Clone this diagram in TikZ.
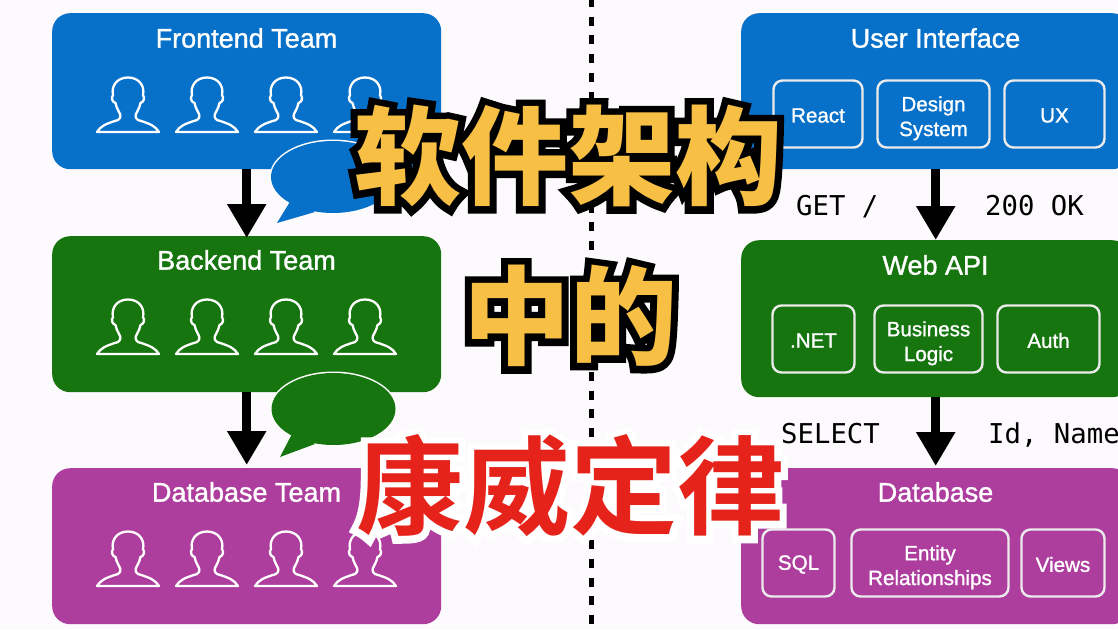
\documentclass[tikz,border=0pt]{standalone}
\usepackage{fontspec}
\setmainfont{Liberation Sans}[FakeBold=1.2]
\newfontfamily\monof{DejaVu Sans Mono}
\newfontfamily\cjkfill{Noto Sans CJK SC}[UprightFont=* Black]
\newfontfamily\cjkoutline{Noto Sans CJK SC}[UprightFont=* Black,FakeBold=13]
\newfontfamily\cjkred{Noto Sans CJK SC}[UprightFont=* Bold]
\newfontfamily\cjkredoutline{Noto Sans CJK SC}[UprightFont=* Bold,FakeBold=13]
\usetikzlibrary{arrows.meta}
\definecolor{pagebg}{HTML}{FDFAFD}
\definecolor{teamblue}{HTML}{0770C8}
\definecolor{teamgreen}{HTML}{17750F}
\definecolor{teampurple}{HTML}{AE3E9E}
\definecolor{titlegold}{HTML}{F7BF44}
\definecolor{titlered}{HTML}{E5231B}
\tikzset{
  x=1pt,y=-1pt,
  bigbox/.style={rounded corners=18pt,minimum width=389pt,minimum height=156pt,inner sep=0pt,anchor=north west},
  innerbox/.style={draw=white!92!black,line width=2.4pt,rounded corners=9pt,minimum height=67pt,inner sep=0pt},
  innerlabel/.style={align=center,text=white,inner sep=0pt,yshift=-1.5pt,font=\fontsize{20.6}{24.8}\selectfont},
  twolines/.style={innerlabel,yshift=-2.8pt},
  boxtitle/.style={text=white,font=\fontsize{27}{29}\selectfont,inner sep=0pt},
  flow/.style={line width=9.5pt,-{Triangle[length=34pt,width=37pt]}},
  monolabel/.style={font=\monof\fontsize{27.3}{32}\selectfont,inner sep=0pt,anchor=base west},
  persona/.pic={
    \draw[white,line width=2.3pt,line join=round]
      (-31,0) .. controls (-27,-6) and (-23,-8) .. (-10,-12)
      .. controls (-7,-14) and (-7,-17) .. (-9,-20)
      .. controls (-11,-24) and (-12,-26) .. (-12.5,-29)
      .. controls (-16,-30) and (-17,-34) .. (-15,-37)
      .. controls (-17,-46) and (-11,-54.5) .. (0,-54.5)
      .. controls (11,-54.5) and (17,-46) .. (15,-37)
      .. controls (17,-34) and (16,-30) .. (12.5,-29)
      .. controls (12,-26) and (11,-24) .. (9,-20)
      .. controls (7,-17) and (7,-14) .. (10,-12)
      .. controls (23,-8) and (27,-6) .. (31,0) -- cycle;
  },
  ttl/.style={inner sep=0pt,font=\fontsize{107}{110}\selectfont},
}
\newcommand{\bubble}[3]{%
  \draw[white,line width=3pt] (#1,#2) ellipse [x radius=62,y radius=36];
  \fill[#3] (#1,#2) ellipse [x radius=62,y radius=36];
}
\begin{document}
\begin{tikzpicture}
\useasboundingbox (0,0) rectangle (1118,629);
\clip (0,0) rectangle (1118,629);
\fill[pagebg] (0,0) rectangle (1118,629);

\draw[line width=5pt,dash pattern=on 9pt off 9.7pt] (591,-2) -- (591,631);

% left column
\node[bigbox,fill=teamblue] (fe) at (52,13) {};
\node[bigbox,fill=teamgreen] (be) at (52,236) {};
\node[bigbox,fill=teampurple] (db) at (52,468) {};
\node[boxtitle] (fet) at (246.5,38) {Frontend Team};
\node[boxtitle] (bet) at (246.5,260) {Backend Team};
\node[boxtitle] (dbt) at (246.5,492) {Database Team};
\foreach \py in {132,354,586}{
  \foreach \px in {128,207,286,365}{
    \pic at (\px,\py) {persona};
  }
}
\draw[flow,shorten >=-2pt] (fe.south) -- (be.north);
\draw[flow,shorten >=3pt] (be.south) -- (db.north);

% speech bubbles
\bubble{333}{177}{teamblue}
\fill[teamblue] (277,223) -- (291,200) -- (315,212) -- cycle;
\bubble{333.5}{409}{teamgreen}
\fill[teamgreen] (280,457) -- (293,432) -- (315,444) -- cycle;

% right column
\node[bigbox,fill=teamblue] (ui) at (741,13) {};
\node[bigbox,fill=teamgreen,minimum height=157pt] (api) at (741,240) {};
\node[bigbox,fill=teampurple] (data) at (741,468) {};
\node[boxtitle] (uit) at (935.5,38) {User Interface};
\node[boxtitle] (apit) at (935.5,265) {Web API};
\node[boxtitle] (datat) at (935.5,492) {Database};
\node[innerbox,minimum width=89pt,label={[innerlabel]center:React}] (r1) at (818,114) {};
\node[innerbox,minimum width=112pt,label={[twolines]center:Design\\System}] (r2) at (933.5,114) {};
\node[innerbox,minimum width=100pt,label={[innerlabel]center:UX}] (r3) at (1054.5,114) {};
\node[innerbox,minimum width=82pt,label={[innerlabel]center:.NET}] (a1) at (813.5,339) {};
\node[innerbox,minimum width=108pt,label={[twolines]center:Business\\Logic}] (a2) at (928.5,339) {};
\node[innerbox,minimum width=102pt,label={[innerlabel]center:Auth}] (a3) at (1048.5,339) {};
\node[innerbox,minimum width=72pt,label={[innerlabel]center:SQL}] (d1) at (798.5,563) {};
\node[innerbox,minimum width=157pt,label={[twolines]center:Entity\\Relationships}] (d2) at (930,563) {};
\node[innerbox,minimum width=83pt,label={[innerlabel]center:Views}] (d3) at (1063,563) {};
\draw[flow] (ui.south) -- (api.north);
\draw[flow,shorten >=2pt] (api.south) -- (data.north);
\node[monolabel] (get) at (796,215) {GET /};
\node[monolabel] (ok) at (985,215) {200 OK};
\node[monolabel] (sel) at (781,443) {SELECT};
\node[monolabel] (idn) at (988,443) {Id, Name};

% title overlay
\node[ttl,text=black] (t1o) at (568,156) {\cjkoutline 软件架构};
\node[ttl,text=titlegold] (t1) at (568,156) {\cjkfill 软件架构};
\node[ttl,text=black] (t2o) at (570,316) {\cjkoutline 中的};
\node[ttl,text=titlegold] (t2) at (570,316) {\cjkfill 中的};
\node[ttl,text=white] (t3o) at (570,486) {\cjkredoutline 康威定律};
\node[ttl,text=titlered] (t3) at (570,486) {\cjkred 康威定律};
\end{tikzpicture}
\end{document}
